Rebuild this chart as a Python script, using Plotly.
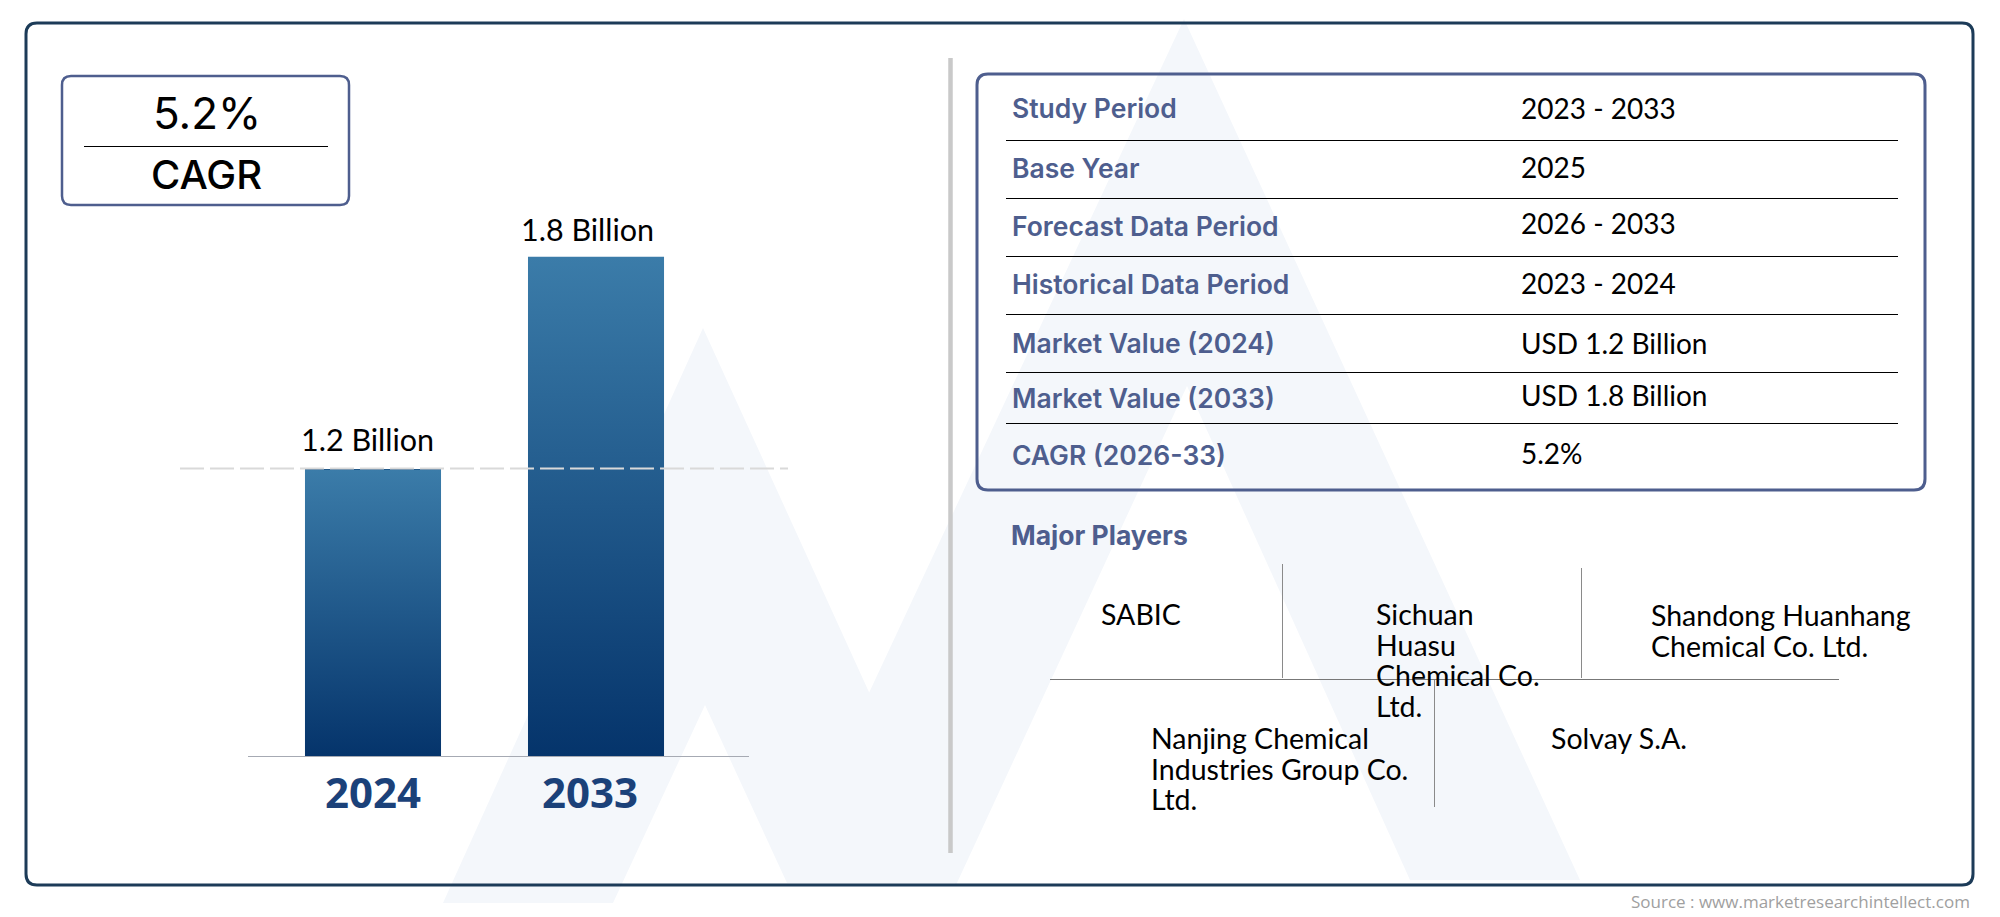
import plotly.graph_objects as go

# data
years = ["2024", "2033"]
market_values = [1.2, 1.8]
value_unit = "Billion"
cagr_text = "5.2%"
cagr_label = "CAGR"

row_labels = ["Study Period", "Base Year", "Forecast Data Period", "Historical Data Period",
              "Market Value (2024)", "Market Value (2033)", "CAGR (2026-33)"]
row_values = ["2023 - 2033", "2025", "2026 - 2033", "2023 - 2024",
              "USD 1.2 Billion", "USD 1.8 Billion", "5.2%"]

players_title = "Major Players"
players = [["SABIC"],
           ["Sichuan", "Huasu", "Chemical Co.", "Ltd."],
           ["Shandong Huanhang", "Chemical Co. Ltd."],
           ["Nanjing Chemical", "Industries Group Co.", "Ltd."],
           ["Solvay S.A."]]
source_text = "Source : www.marketresearchintellect.com"

W, H = 2000, 917
NAVY = "#1c3b58"
SLATE = "#4e5e8e"
BODY_FONT = "Lato"
HEAD_FONT = "Inter"


def px(x):
    return x / W


def py(y):
    return 1 - y / H


def label(text, x, y, size, color="black", font=BODY_FONT, weight=400, anchor="left"):
    return dict(text=text, x=px(x), y=py(y), xref="paper", yref="paper", showarrow=False,
                xanchor=anchor, yanchor="middle", align=anchor,
                font=dict(family=font, size=size, color=color, weight=weight))


def poly(points):
    path = "M " + " L ".join(f"{px(x)},{py(y)}" for x, y in points) + " Z"
    return dict(type="path", path=path, xref="paper", yref="paper", layer="below",
                fillcolor="#f4f7fb", line=dict(width=0))


def rounded(x0, y0, x1, y1, r, color, width):
    p = lambda x, y: f"{px(x)},{py(y)}"
    path = (f"M {p(x0 + r, y0)} L {p(x1 - r, y0)} Q {p(x1, y0)} {p(x1, y0 + r)} "
            f"L {p(x1, y1 - r)} Q {p(x1, y1)} {p(x1 - r, y1)} L {p(x0 + r, y1)} "
            f"Q {p(x0, y1)} {p(x0, y1 - r)} L {p(x0, y0 + r)} Q {p(x0, y0)} {p(x0 + r, y0)} Z")
    return dict(type="path", path=path, xref="paper", yref="paper", layer="below",
                line=dict(color=color, width=width))


def rule(x0, y0, x1, y1, color="black", width=1):
    return dict(type="line", x0=px(x0), y0=py(y0), x1=px(x1), y1=py(y1), xref="paper", yref="paper",
                line=dict(color=color, width=width))


# the axis does not start at zero in the picture, the bars are cut at this value
y_floor = 0.392
bar_width = 0.61

fig = go.Figure()
fig.add_trace(go.Bar(x=[0, 1], y=market_values, width=bar_width, marker=dict(color="#05346b", line=dict(width=0)),
                     showlegend=False, hoverinfo="y"))

# gradient on top of each bar
for i, v in enumerate(market_values):
    x0, x1 = i - bar_width / 2, i + bar_width / 2
    fig.add_trace(go.Scatter(x=[x0, x0, x1, x1, x0], y=[y_floor, v, v, y_floor, y_floor], mode="lines",
                             fill="toself", line=dict(width=0), hoverinfo="skip", showlegend=False,
                             fillgradient=dict(type="vertical",
                                               colorscale=[[0, "#05346b"], [1, "#3b7ca9"]])))

shapes = [
    # watermark behind everything
    poly([(703, 328), (956, 883), (787, 883), (705, 705), (613, 903), (443, 903)]),
    poly([(1184, 19), (1580, 880), (1410, 880), (1187, 386), (956, 885), (868, 695)]),
    rounded(26, 23, 1973, 885, 11, NAVY, 3),
    rounded(62, 76, 349, 205, 9, SLATE, 2.5),
    rounded(977, 74, 1925, 490, 11, SLATE, 3),
    rule(950.5, 58, 950.5, 853, "#c9c9c9", 4.5),
    rule(84, 146.5, 328, 146.5),
    rule(1050, 679.5, 1839, 679.5, "#777777"),
    rule(1282.5, 564, 1282.5, 678, "#8a8a8a"),
    rule(1581.5, 568, 1581.5, 678, "#8a8a8a"),
    rule(1434.5, 680, 1434.5, 807, "#8a8a8a"),
    # dashed level of the 2024 bar, it lies a hair above the bar top
    dict(type="line", x0=px(180), x1=px(788), y0=market_values[0] + 0.003, y1=market_values[0] + 0.003,
         xref="paper", yref="y", layer="above", line=dict(color="#d9d9d9", width=2, dash="24px,6px")),
]
for y in [140.5, 198.5, 256.5, 314.5, 372.5, 423.5]:
    shapes.append(rule(1006, y, 1898, y))

annotations = [
    label(cagr_text, 207, 113, 44, font=HEAD_FONT, anchor="center"),
    label(cagr_label, 206, 174, 40, font=HEAD_FONT, weight=500, anchor="center"),
    label(players_title, 1009, 535, 26.5, SLATE, HEAD_FONT, 700),
    label(source_text, 1972, 901, 17, "#a0a0a0", font="Open Sans", anchor="right"),
]

# bar labels sit a little left of the bar centres
for i, (v, shift, lift) in enumerate(zip(market_values, [-6, -9], [10, 8])):
    annotations.append(dict(text=f"{v} {value_unit}", x=i, y=v, xref="x", yref="y", showarrow=False,
                            xanchor="center", yanchor="bottom", xshift=shift, yshift=lift,
                            font=dict(family=BODY_FONT, size=30.5, color="black")))

label_y = [108, 168, 226, 284, 343, 398, 455]
value_y = [108, 167, 223, 283, 343, 395, 453]
for name, value, ly, vy in zip(row_labels, row_values, label_y, value_y):
    annotations.append(label(name, 1009.5, ly, 26.5, SLATE, HEAD_FONT, 600))
    annotations.append(label(value, 1518.5, vy, 28))

player_x = [1098.5, 1373.5, 1648.5, 1149, 1549]
player_y = [614, 614, 615, 738, 738]
for lines, x, y in zip(players, player_x, player_y):
    for j, line in enumerate(lines):
        annotations.append(label(line, x, y + j * 30.6, 28.5))

fig.update_layout(
    width=W, height=H, margin=dict(l=0, r=0, t=0, b=0),
    paper_bgcolor="white", plot_bgcolor="rgba(0,0,0,0)", showlegend=False, bargap=0,
    shapes=shapes, annotations=annotations,
    xaxis=dict(domain=[px(248), px(749)], range=[-0.5605, 1.686], showgrid=False, zeroline=False,
               showline=True, linecolor="#a6aab3", linewidth=1,
               tickvals=[0, 0.973], ticktext=years, ticks="outside", ticklen=1, tickcolor="rgba(0,0,0,0)",
               tickfont=dict(family="Noto Sans", size=42, color="#1b4179", weight=700)),
    yaxis=dict(domain=[py(756), py(100)], range=[y_floor, 2.2418], visible=False),
)

fig.write_html("out.html", config=dict(displayModeBar=False),
               post_script="document.body.style.margin='0';")
